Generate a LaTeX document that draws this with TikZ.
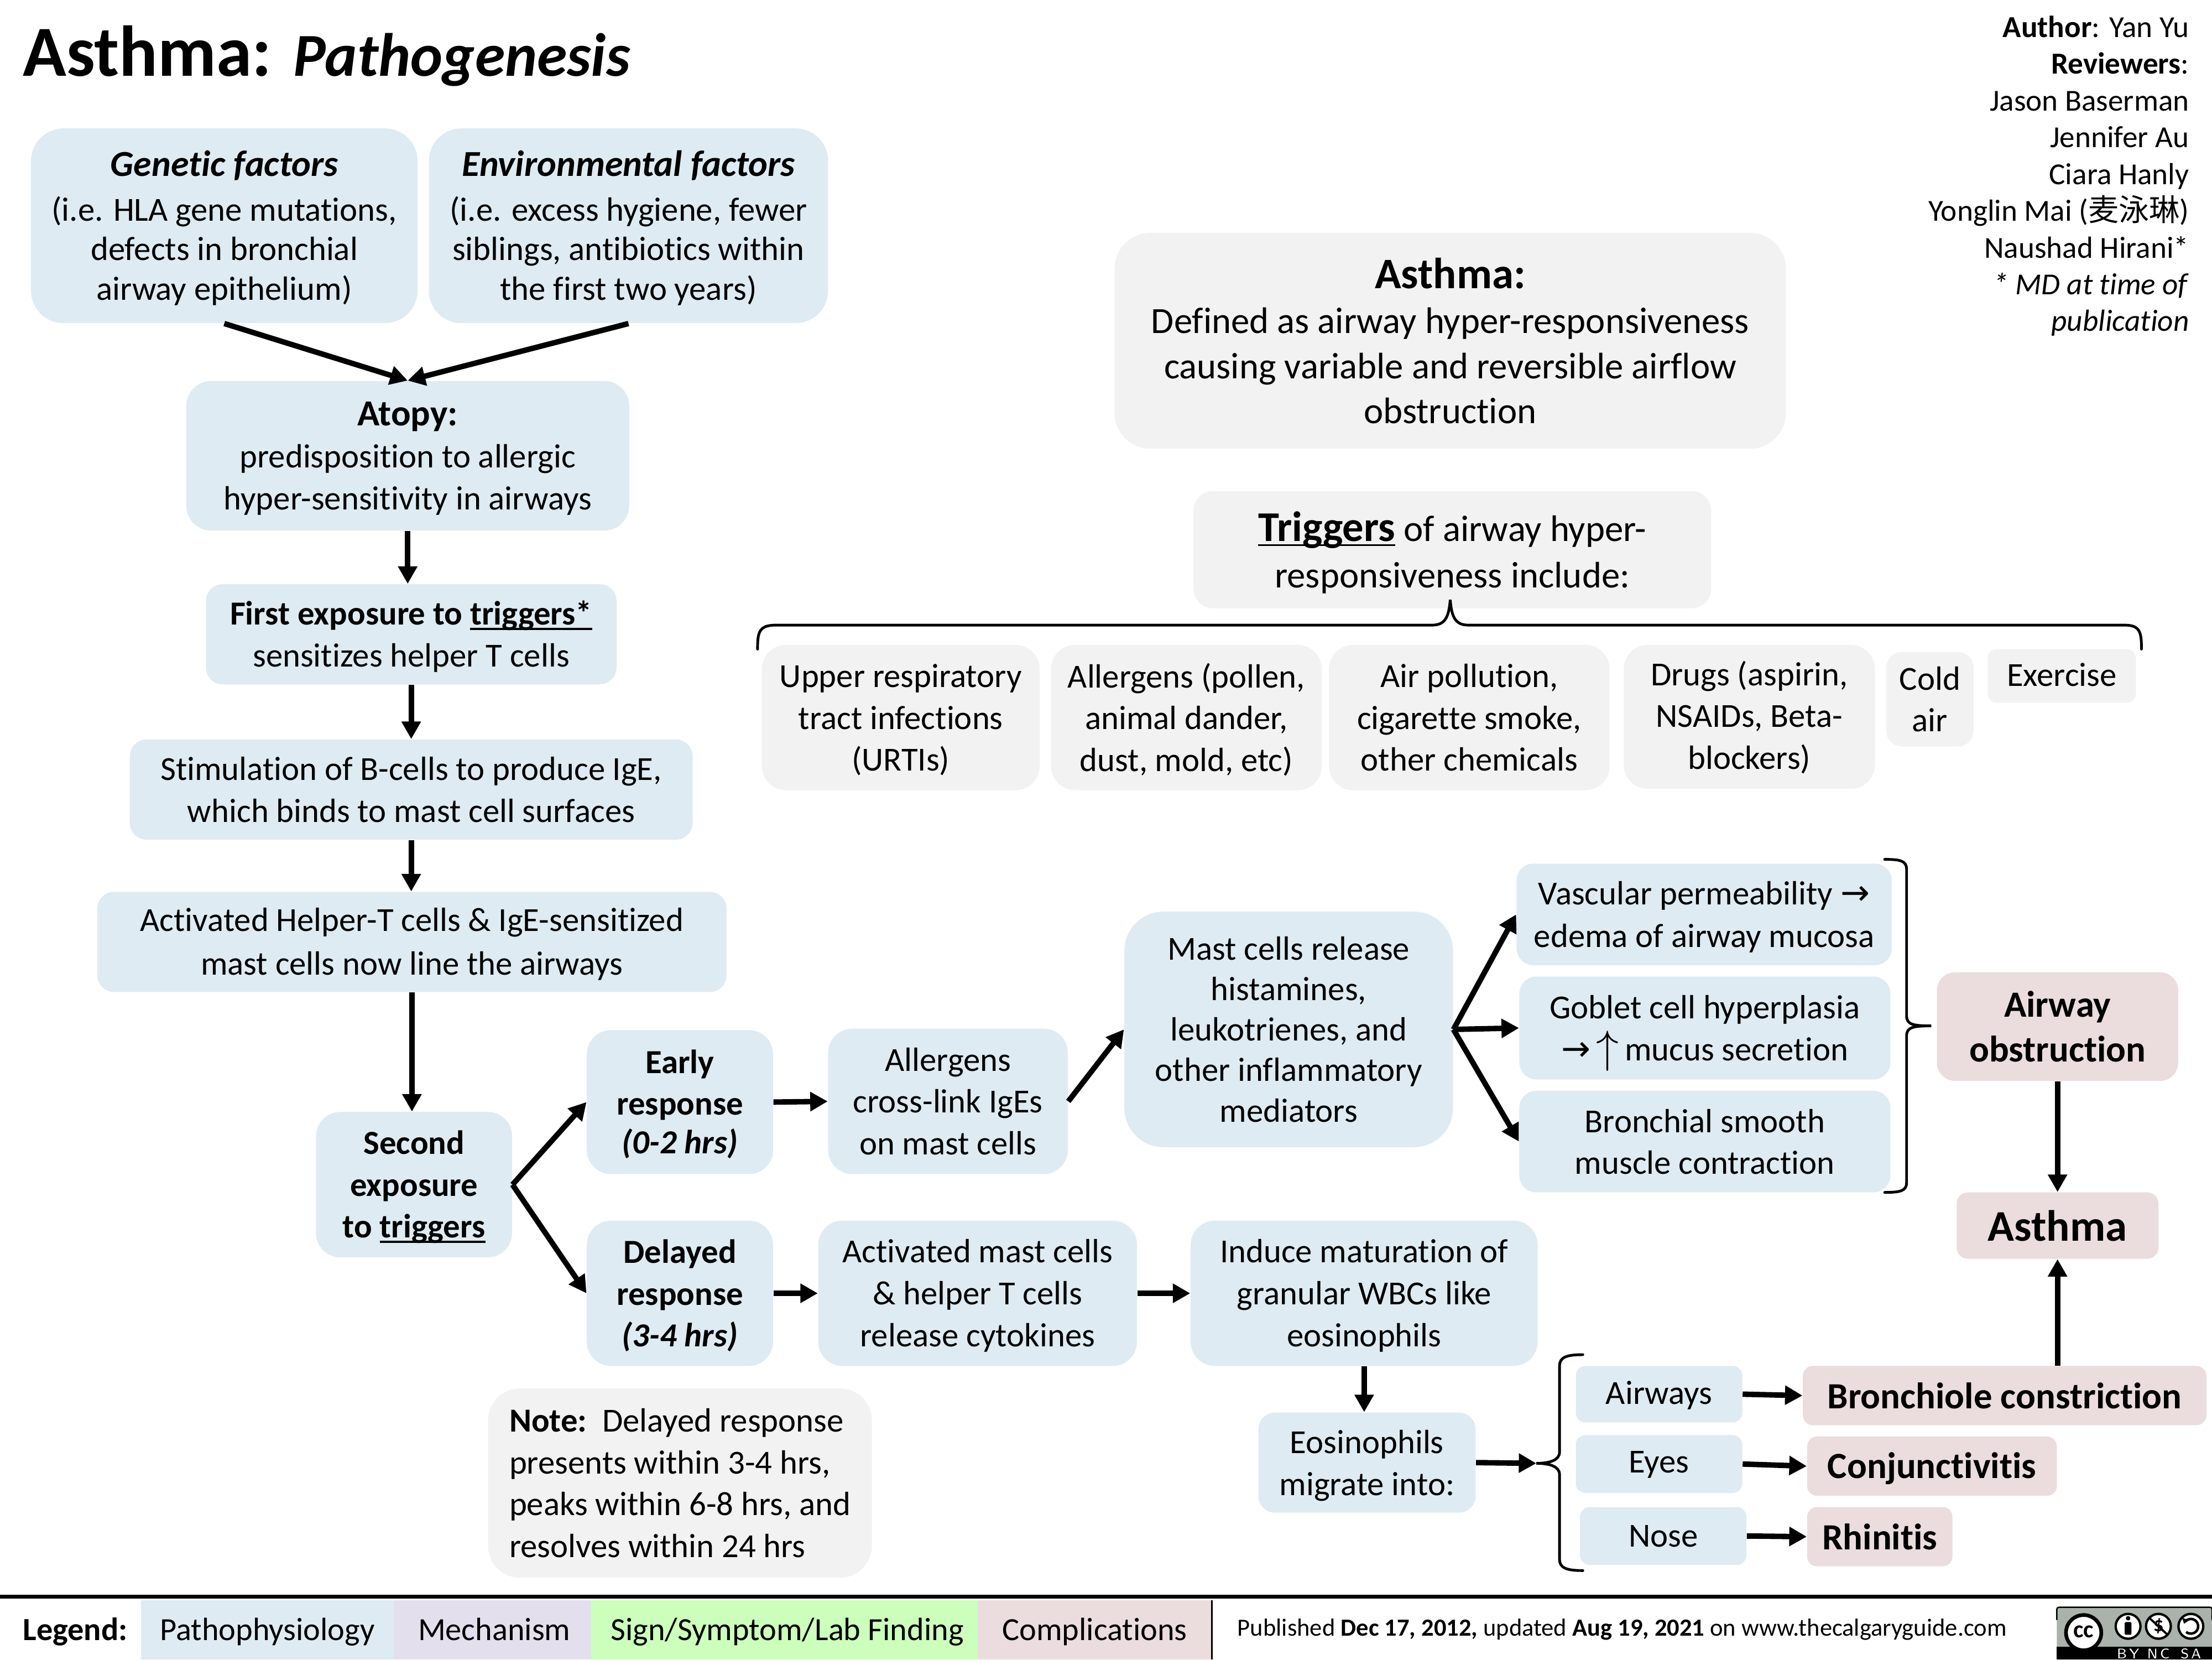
\documentclass[tikz,border=0pt]{standalone}
\usepackage{fontspec}
\setmainfont{Carlito}[Ligatures=NoCommon]
\newfontfamily\cjk{Noto Sans CJK SC}
\newfontfamily\symfont{DejaVu Sans}
\usepackage{xcolor}
\definecolor{pathcol}{HTML}{DFEBF2}
\definecolor{infocol}{HTML}{F2F2F2}
\definecolor{mechcol}{HTML}{E4DFEC}
\definecolor{signcol}{HTML}{CCFFBB}
\definecolor{compcol}{HTML}{EBDCDD}
\definecolor{ccgray}{HTML}{AAB2AB}
\usepackage{tikz}
\usetikzlibrary{arrows.meta}
\newcommand{\fs}[2]{\fontsize{#1}{#2}\selectfont}
\newcommand{\rarr}{{\symfont\fs{18}{18}→}}
\newcommand{\ulin}[1]{\setbox0=\hbox{#1}\rlap{\raisebox{-2.6pt}{\rule{\wd0}{1.1pt}}}\box0}
\tikzset{
  sz/.style 2 args={minimum width=#1*0.02551cm, minimum height=#2*0.02551cm,
    rounded corners=#2*0.1667*0.02551cm},
  low/.style={text depth=#1},
  boxbase/.style={rectangle, inner sep=0pt, align=center, font=\fs{17.3}{21.5}},
  pathbox/.style={boxbase, fill=pathcol},
  infobox/.style={boxbase, fill=infocol},
  compbox/.style={boxbase, fill=compcol, font=\fs{19}{23}\bfseries},
  legbox/.style={rectangle, inner sep=0pt, font=\fs{16.6}{20},
    minimum height=42*0.02551cm, text height=16pt, text depth=5pt},
  arr/.style={line width=2.8pt, -{Triangle[length=9pt,width=9.5pt]}},
  brk/.style={line width=1.4pt, line cap=round}
}
\begin{document}
\begin{tikzpicture}[x=0.02551cm,y=-0.02551cm]
  \useasboundingbox (0,0) rectangle (1568,1176);
  % Title and credits
  \node[anchor=base west, inner sep=0pt] (title) at (16,54)
    {\fs{37}{40}\bfseries Asthma: \fs{31.4}{40}\itshape Pathogenesis};
  \node[anchor=north east, inner sep=0pt, align=right, font=\fs{15.7}{18.9}] (credits) at (1552,11)
    {\textbf{Author}: Yan Yu\\ \textbf{Reviewers}:\\ Jason Baserman\\ Jennifer Au\\ Ciara Hanly\\
     Yonglin Mai ({\cjk 麦泳琳})\\ Naushad Hirani*\\ \textit{* MD at time of}\\ \textit{publication}};

  % Left column
  \node[pathbox, sz={274}{138}, low=0.4pt, font=\fs{17.3}{20.4}] (genetic) at (159,160)
    {{\fs{18.8}{23}\bfseries\itshape Genetic factors}\\[2.5pt] (i.e. HLA gene mutations,\\ defects in bronchial\\ airway epithelium)};
  \node[pathbox, sz={283}{138}, low=0.4pt, font=\fs{17.3}{20.4}] (environ) at (445.5,160)
    {{\fs{18.8}{23}\bfseries\itshape Environmental factors}\\[2.5pt] (i.e. excess hygiene, fewer\\ siblings, antibiotics within\\ the first two years)};
  \node[pathbox, sz={314}{106}, low=-1.7pt] (atopy) at (289,323)
    {{\fs{18.9}{23}\bfseries Atopy:}\\ predisposition to allergic\\ hyper-sensitivity in airways};
  \node[pathbox, sz={291}{71}, low=0.4pt] (first) at (291.5,449.5)
    {\textbf{First exposure to \ulin{triggers*}}\\ sensitizes helper T cells};
  \node[pathbox, sz={399}{71}, low=-1.45pt] (stim) at (291.5,559.5)
    {Stimulation of B-cells to produce IgE,\\ which binds to mast cell surfaces};
  \node[pathbox, sz={446}{71}, low=0.4pt, font=\fs{17.3}{22.5}] (helper) at (292,667.5)
    {Activated Helper-T cells \& IgE-sensitized\\ mast cells now line the airways};
  \node[pathbox, sz={139}{103}, low=0.4pt] (second) at (293.5,839.5)
    {\textbf{Second}\\ \textbf{exposure}\\ \textbf{to \ulin{triggers}}};
  \node[pathbox, sz={132}{102}, low=0.4pt] (early) at (482,781)
    {\textbf{Early}\\ \textbf{response}\\[-1.5pt] \textbf{\textit{(0-2 hrs)}}};
  \node[pathbox, sz={132}{103}, low=-0.3pt] (delayed) at (482,916.5)
    {\textbf{Delayed}\\ \textbf{response}\\ \textbf{\textit{(3-4 hrs)}}};
  \node[infobox, sz={272}{134}, align=left] (note) at (482,1051)
    {\textbf{Note:}\ \ Delayed response\\ presents within 3-4 hrs,\\ peaks within 6-8 hrs, and\hspace*{3pt}\\ resolves within 24 hrs};

  % Middle
  \node[pathbox, sz={170}{103}] (crosslink) at (672,780.5)
    {Allergens\\ cross-link IgEs\\ on mast cells};
  \node[pathbox, sz={226}{103}, low=0.4pt] (cytokine) at (693,916.5)
    {Activated mast cells\\ \& helper T cells\\ release cytokines};
  \node[pathbox, sz={233}{167}, font=\fs{17.3}{20.8}] (release) at (913.5,729.5)
    {Mast cells release\\ histamines,\\ leukotrienes, and\\ other inflammatory\\ mediators};
  \node[pathbox, sz={246}{103}, low=0.4pt] (induce) at (967,916.5)
    {Induce maturation of\\ granular WBCs like\\ eosinophils};
  \node[pathbox, sz={154}{71}, low=-0.3pt] (eosin) at (969,1036.5)
    {Eosinophils\\ migrate into:};

  % Definition and triggers
  \node[infobox, sz={476}{153}, font=\fs{19}{23.2}] (defn) at (1028,241.5)
    {{\fs{22.4}{26}\bfseries Asthma:}\\ Defined as airway hyper-responsiveness\\ causing variable and reversible airflow\\ obstruction};
  \node[infobox, sz={367}{83}, low=-0.3pt, font=\fs{19}{24}] (triggers) at (1029.5,389.5)
    {{\fs{21.8}{24}\bfseries\ulin{Triggers}} of airway hyper-\\ responsiveness include:};
  \node[infobox, sz={197}{103}, low=-0.3pt] (urti) at (638.5,508.5)
    {Upper respiratory\\ tract infections\\ (URTIs)};
  \node[infobox, sz={192}{103}, low=0.4pt] (allergen) at (841,508.5)
    {Allergens (pollen,\\ animal dander,\\ dust, mold, etc)};
  \node[infobox, sz={199}{103}, low=-2.2pt] (pollution) at (1041.5,508.5)
    {Air pollution,\\ cigarette smoke,\\ other chemicals};
  \node[infobox, sz={178}{102}, low=1.85pt] (drugs) at (1240,508)
    {Drugs (aspirin,\\ NSAIDs, Beta-\\ blockers)};
  \node[infobox, sz={62}{67}] (cold) at (1368,495.5)
    {Cold\\ air};
  \node[infobox, sz={105}{38}, low=1.45pt] (exercise) at (1461.5,479)
    {Exercise};

  % Effects of mediators
  \node[pathbox, sz={266}{72}, low=-0.3pt, font=\fs{17.3}{22}] (vascular) at (1208,648)
    {Vascular permeability \rarr\\ edema of airway mucosa};
  \node[pathbox, sz={263}{73}] (goblet) at (1208.5,728.5)
    {Goblet cell hyperplasia\\ \rarr\,\smash{\raisebox{-1pt}{\scalebox{1.35}{$\uparrow$}}}\,mucus secretion};
  \node[pathbox, sz={263}{72}, low=-1.45pt] (smooth) at (1208.5,809)
    {Bronchial smooth\\ muscle contraction};
  \node[compbox, sz={171}{77}] (obstruct) at (1458.5,727.5)
    {Airway\\ obstruction};
  \node[compbox, sz={143}{47}, font=\fs{22.5}{26}\bfseries] (asthma) at (1458.5,868.5)
    {Asthma};

  % Eosinophil targets
  \node[pathbox, sz={118}{40}, low=1.85pt] (airways) at (1176,988) {Airways};
  \node[pathbox, sz={118}{41}, low=1.85pt] (eyes) at (1176,1037.5) {Eyes};
  \node[pathbox, sz={118}{41}] (nose) at (1179,1088.5) {Nose};
  \node[compbox, sz={286}{42}] (bronchiole) at (1421,989) {Bronchiole constriction};
  \node[compbox, sz={177}{42}, low=0.7pt] (conj) at (1369.5,1039) {Conjunctivitis};
  \node[compbox, sz={103}{42}] (rhinitis) at (1332.5,1089) {Rhinitis};

  % Brackets
  \coordinate (trigtip) at (1028,425);
  \draw[brk] (537,460) .. controls (537,448) and (538,443) .. (550,443) -- (1015,443)
    .. controls (1024,443) and (1027,438) .. (trigtip)
    .. controls (1029,438) and (1032,443) .. (1041,443) -- (1506,443)
    .. controls (1517,443) and (1518,448) .. (1518,460);
  \coordinate (obstip) at (1369,727);
  \draw[brk] (1336,609) .. controls (1347,609) and (1351.5,610) .. (1351.5,616) -- (1351.5,720)
    .. controls (1351.5,726) and (1356,727) .. (obstip)
    .. controls (1356,727) and (1351.5,728) .. (1351.5,734) -- (1351.5,838)
    .. controls (1351.5,844) and (1347,845) .. (1336,845);
  \coordinate (eostip) at (1089,1037);
  \draw[brk] (1122,960) .. controls (1110,960) and (1105.5,962) .. (1105.5,968) -- (1105.5,1029)
    .. controls (1105.5,1035) and (1098,1037) .. (eostip)
    .. controls (1098,1037) and (1105.5,1039) .. (1105.5,1045) -- (1105.5,1105)
    .. controls (1105.5,1111) and (1110,1113) .. (1122,1113);

  % Arrows
  \draw[arr] (genetic.south) -- (atopy.north);
  \draw[arr] (environ.south) -- (atopy.north);
  \draw[arr] (atopy.south) -- (atopy.south |- first.north);
  \draw[arr] (first.south) -- (stim.north);
  \draw[arr] (stim.south) -- (stim.south |- helper.north);
  \draw[arr] (helper.south) -- (helper.south |- second.north);
  \draw[arr] (second.east) -- (early.west);
  \draw[arr] (second.east) -- (delayed.west);
  \draw[arr] (early.east) -- (crosslink.west);
  \draw[arr] (delayed.east) -- (cytokine.west);
  \draw[arr] (cytokine.east) -- (induce.west);
  \draw[arr] (crosslink.east) -- (release.west);
  \draw[arr] (release.east) -- (vascular.west);
  \draw[arr] (release.east) -- (goblet.west);
  \draw[arr] (release.east) -- (smooth.west);
  \draw[arr] (induce.south) -- (induce.south |- eosin.north);
  \draw[arr] (eosin.east) -- (eostip);
  \draw[arr] (airways.east) -- (bronchiole.west);
  \draw[arr] (eyes.east) -- (conj.west);
  \draw[arr] (nose.east) -- (rhinitis.west);
  \draw[arr] (obstruct.south) -- (asthma.north);
  \draw[arr] (asthma.south |- bronchiole.north) -- (asthma.south);

  % Legend
  \draw[line width=1.8pt] (0,1131.5) -- (1568,1131.5);
  \node[anchor=base west, inner sep=0pt, font=\fs{16.6}{20}\bfseries] (legend) at (16,1162.5) {Legend:};
  \node[legbox, fill=pathcol, minimum width=179*0.02551cm] (legpath) at (189.5,1155) {Pathophysiology};
  \node[legbox, fill=mechcol, minimum width=140*0.02551cm] (legmech) at (349,1155) {\hspace*{2pt}Mechanism};
  \node[legbox, fill=signcol, minimum width=274*0.02551cm] (legsign) at (556,1155) {\hspace*{3pt}Sign/Symptom/Lab Finding};
  \node[legbox, fill=compcol, minimum width=166*0.02551cm] (legcomp) at (776,1155) {Complications};
  \draw[line width=0.8pt] (859,1134) -- (859,1176);
  \node[anchor=base west, inner sep=0pt, font=\fs{12.67}{16}] (published) at (877,1159.5)
    {Published \textbf{Dec 17, 2012,} updated \textbf{Aug 19, 2021} on www.thecalgaryguide.com};

  % Licence badge
  \fill[ccgray, rounded corners=1pt] (1458,1139) rectangle (1568,1176);
  \draw[line width=0.7pt, rounded corners=1pt] (1458,1148) -- (1458,1139) -- (1568,1139) -- (1568,1148);
  \fill[black] (1458,1167) rectangle (1568,1176);
  \draw[line width=1.9pt, fill=white] (1477,1157) circle[radius=12.5];
  \node[inner sep=0pt, font=\fs{12.5}{12}\bfseries] (ccmark) at (1477,1156.5) {cc};
  \foreach \cx in {1508.5,1530,1553}
    \draw[line width=1.2pt, fill=white] (\cx,1152.5) circle[radius=8.8];
  \fill[black] (1508.5,1146.8) circle[radius=1.6];
  \fill[black, rounded corners=0.5pt] (1506.1,1149.5) rectangle (1510.9,1158.5);
  \node[inner sep=0pt, font=\fs{10.5}{10}\bfseries] (ncmark) at (1530,1152.5) {\$};
  \draw[line width=1.1pt] (1523.5,1146.5) -- (1536.5,1158.5);
  \draw[line width=1.3pt, -{Triangle[length=2.6pt,width=3.6pt]}] (1549.66,1156.48) arc[start angle=130, end angle=-160, radius=5.2];
  \foreach \cx/\lab in {1508.5/{B\,Y},1530/{N\,C},1553/{S\,A}}
    \node[inner sep=0pt, text=white, font=\sffamily\fs{7.2}{7}] at (\cx,1172) {\lab};
\end{tikzpicture}
\end{document}
